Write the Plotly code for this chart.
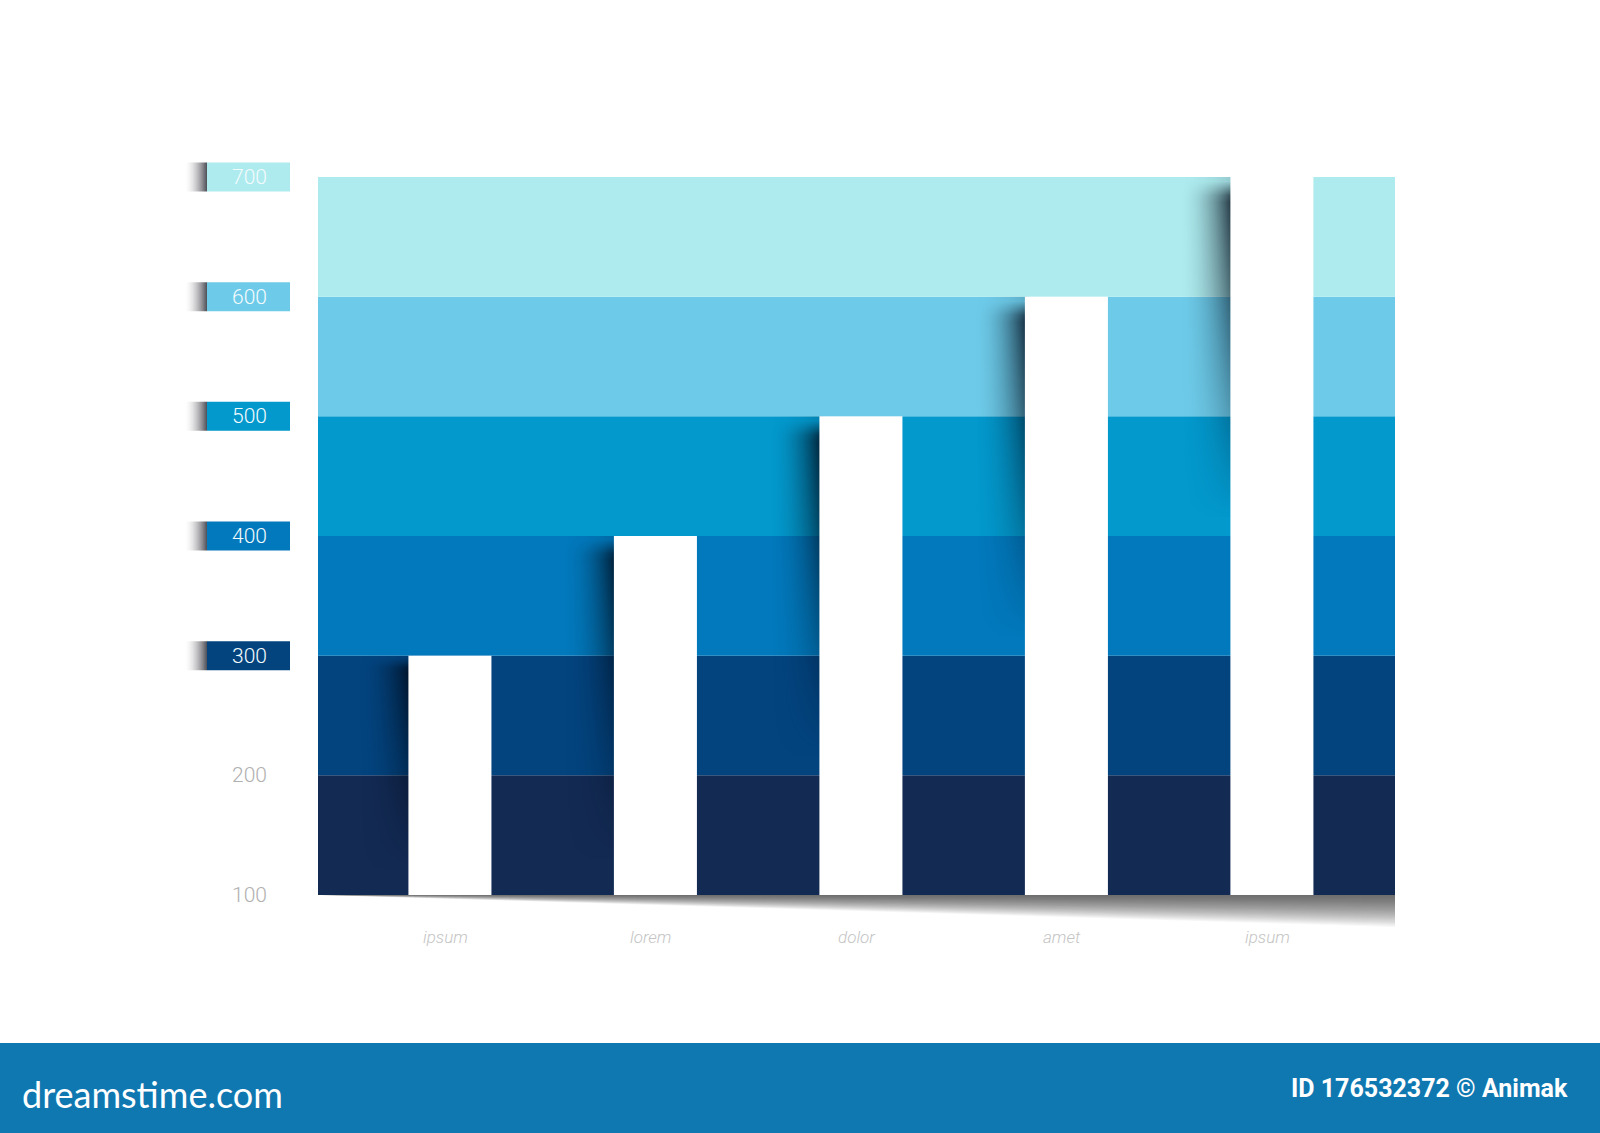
import plotly.graph_objects as go

# ---------------- data ----------------
categories = ["ipsum", "lorem", "dolor", "amet", "ipsum"]
values = [300, 400, 500, 600, 700]
band_edges = [100, 200, 300, 400, 500, 600, 700]
band_colors = ["#132A53", "#03447F", "#0279BC", "#0399CD", "#6DCBE9", "#ADEBEE"]
boxed_ticks = [300, 400, 500, 600, 700]
plain_ticks = [100, 200]
banner_left = "dreamstime.com"
banner_right = "ID 176532372 © Animak"

# ---------------- layout geometry ----------------
FW, FH = 1600, 1133
ML, MR, MT, MB = 318, 205, 177, 238
PW, PH = FW - ML - MR, FH - MT - MB
XR = [-0.642, 4.599]
YR = [band_edges[0], band_edges[-1]]
BAR_W = 0.404

xu = (XR[1] - XR[0]) / PW   # x units per pixel
yu = (YR[1] - YR[0]) / PH   # y units per pixel


def px_x(px):
    return (px - ML) / PW


def px_y(py):
    return (FH - MB - py) / PH


shapes = []

# colored horizontal bands
for i, col in enumerate(band_colors):
    shapes.append(dict(type="rect", xref="x domain", yref="y", x0=0, x1=1,
                       y0=band_edges[i], y1=band_edges[i + 1],
                       fillcolor=col, line=dict(width=0), layer="below"))

fig = go.Figure()

# soft shadows on the left of each bar (smooth heatmaps, drawn below the bars)
NX, NY = 26, 48
SH_W = 52  # px
shadow_scale = [[0.0, "rgba(0,8,22,0)"], [1.0, "rgba(0,8,22,0.85)"]]
for i, v in enumerate(values):
    left = i - BAR_W / 2
    length_px = min(340, (v - YR[0]) / yu * 0.9)
    dx = SH_W / NX * xu
    xs = [left - SH_W * xu + (k + 0.5) * dx for k in range(NX)] + [left + 0.5 * dx, left + 1.5 * dx]
    ys = [v - length_px * yu * (1 - (j + 0.5) / NY) for j in range(NY)]
    z = []
    for j in range(NY):
        t = 1 - (j + 0.5) / NY          # 0 at top, 1 at bottom
        fv = min(1.0, t / 0.06) * (1 - t) ** 1.0
        row = []
        for k in range(NX + 2):
            s = max(0.0, 1 - (k + 0.5) / NX)  # 0 at bar edge, 1 at far left
            fh = (1 - s) ** 2.0
            row.append(fv * fh)
        z.append(row)
    fig.add_trace(go.Heatmap(x=xs, y=ys, z=z, colorscale=shadow_scale, zmin=0, zmax=1,
                             showscale=False, zsmooth="best", hoverinfo="skip"))

# white bars
fig.add_trace(go.Bar(x=list(range(len(values))), y=[v - YR[0] for v in values],
                     base=YR[0], width=BAR_W, marker=dict(color="white", line=dict(width=0)),
                     hoverinfo="skip"))

# bottom wedge shadow under the chart
NL = 30
for k in range(NL):
    h = 32 * (k + 1) / NL
    xl, xr = px_x(ML), px_x(ML + PW)
    yb = px_y(FH - MB)
    yt = px_y(FH - MB + h)
    path = f"M {xl},{yb} L {xr},{yb} L {xr},{yt} Z"
    shapes.append(dict(type="path", xref="paper", yref="paper", path=path,
                       fillcolor="rgba(20,20,20,0.03)", line=dict(width=0)))

# y label boxes with gradient tab
BOX_H = 29
for v in boxed_ticks:
    col = band_colors[band_edges.index(v) - 1]
    cy = FH - MB - (v - YR[0]) / yu
    y0, y1 = px_y(cy + BOX_H / 2), px_y(cy - BOX_H / 2)
    shapes.append(dict(type="rect", xref="paper", yref="paper",
                       x0=px_x(207), x1=px_x(290), y0=y0, y1=y1,
                       fillcolor=col, line=dict(width=0)))
    NG = 22
    for g in range(NG):
        a = 0.85 * ((g + 1) / NG) ** 1.8
        shapes.append(dict(type="rect", xref="paper", yref="paper",
                           x0=px_x(185 + g * 22 / NG), x1=px_x(185 + (g + 1) * 22 / NG),
                           y0=y0, y1=y1, fillcolor=f"rgba(55,55,65,{a:.3f})",
                           line=dict(width=0)))

# bottom banner
shapes.append(dict(type="rect", xref="paper", yref="paper",
                   x0=px_x(0), x1=px_x(FW), y0=px_y(FH), y1=px_y(1043),
                   fillcolor="#1078B1", line=dict(width=0)))

annotations = []
LABEL_FONT = "Roboto, sans-serif"
for v in boxed_ticks:
    annotations.append(dict(x=px_x(249), xref="paper", y=v, yref="y", text=str(v),
                            showarrow=False, xanchor="center", yanchor="middle",
                            font=dict(family=LABEL_FONT, size=21, color="#F4FBFD", weight=300)))
for v in plain_ticks:
    annotations.append(dict(x=px_x(249), xref="paper", y=v, yref="y", text=str(v),
                            showarrow=False, xanchor="center", yanchor="middle",
                            font=dict(family=LABEL_FONT, size=21, color="#B0B0B0", weight=300)))

for i, c in enumerate(categories):
    annotations.append(dict(x=i, xref="x", y=0, yref="paper", text=f"<i>{c}</i>",
                            showarrow=False, xanchor="center", yanchor="middle",
                            yshift=-42, xshift=-4,
                            font=dict(family=LABEL_FONT, size=17, color="#C4C4C4", weight=300)))

annotations.append(dict(x=px_x(20), xref="paper", y=px_y(1094), yref="paper",
                        text=banner_left, showarrow=False, xanchor="left", yanchor="middle",
                        font=dict(family="Lato, Noto Sans, sans-serif", size=36, color="white")))
annotations.append(dict(x=px_x(1570), xref="paper", y=px_y(1088), yref="paper",
                        text=f"<b>{banner_right}</b>", showarrow=False, xanchor="right",
                        yanchor="middle",
                        font=dict(family="Roboto, sans-serif", size=25, color="white")))

fig.update_layout(
    width=FW, height=FH,
    margin=dict(l=ML, r=MR, t=MT, b=MB, pad=0),
    paper_bgcolor="white", plot_bgcolor="white",
    showlegend=False,
    xaxis=dict(range=XR, visible=False, fixedrange=True),
    yaxis=dict(range=YR, visible=False, fixedrange=True),
    shapes=shapes, annotations=annotations,
)

fig.write_html("out.html", config={"displayModeBar": False},
               post_script="document.body.style.margin='0';")
